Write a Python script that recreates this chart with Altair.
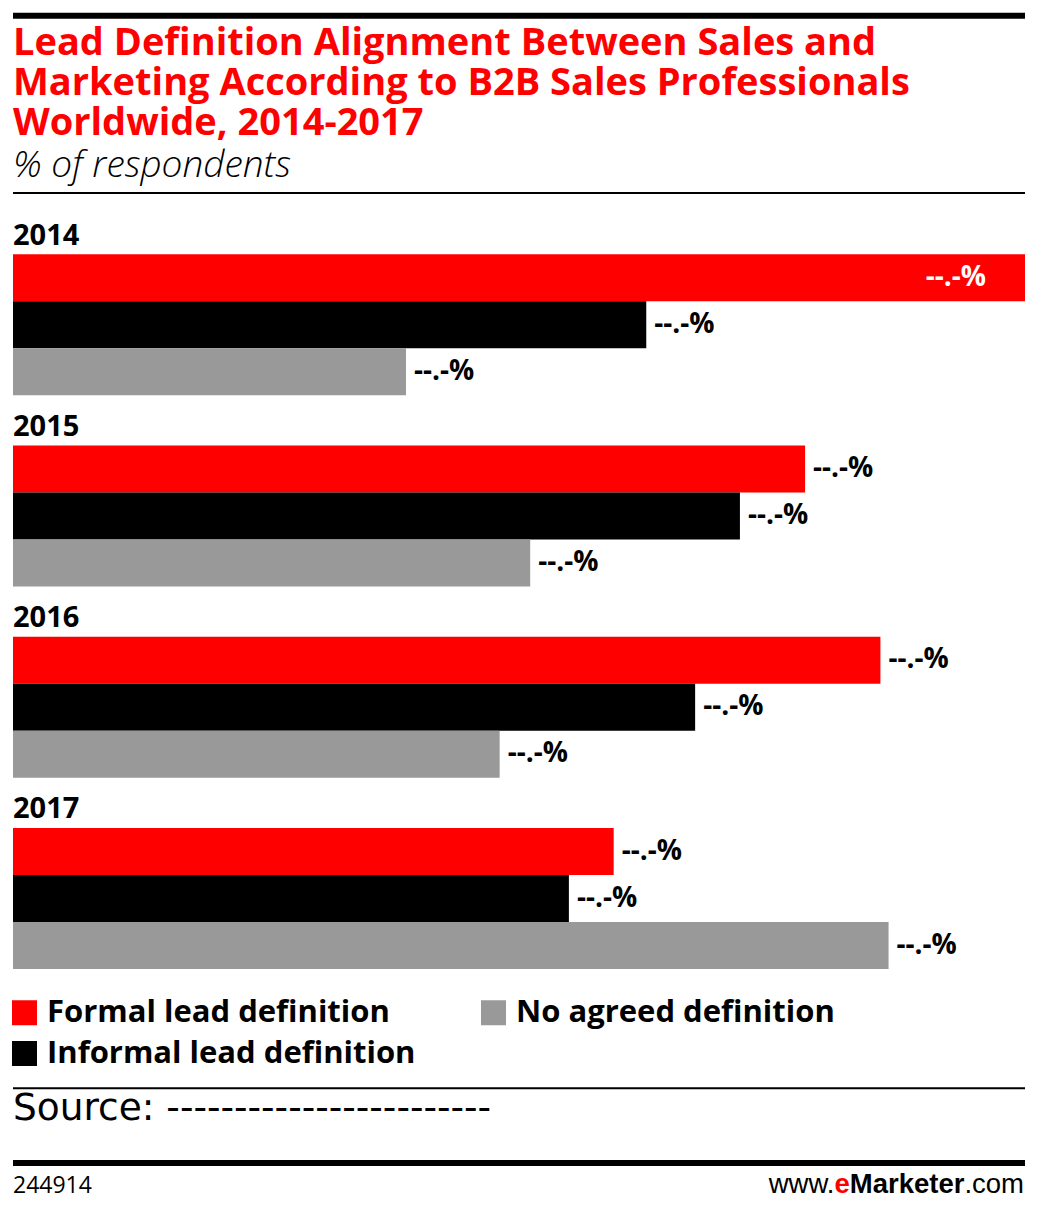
import altair as alt
import pandas as pd

# ---------------- data ----------------
years = ["2014", "2015", "2016", "2017"]
series = ["Formal lead definition", "Informal lead definition", "No agreed definition"]
formal = [49.7, 38.9, 42.6, 29.5]
informal = [31.1, 35.7, 33.5, 27.3]
no_agreed = [19.3, 25.4, 23.9, 43.0]
value_label = "--.-%"
series_colors = ["#ff0000", "#000000", "#999999"]

title_lines = ["Lead Definition Alignment Between Sales and",
               "Marketing According to B2B Sales Professionals",
               "Worldwide, 2014-2017"]
subtitle = "% of respondents"
source_text = "Source: ------------------------"
chart_id = "244914"

rows = []
for i, yr in enumerate(years):
    for s, vals in zip(series, [formal, informal, no_agreed]):
        rows.append({"year": yr, "series": s, "value": vals[i], "label": value_label})
df = pd.DataFrame(rows)

W, H = 1012, 765
FONT = "Open Sans"

xs = alt.Scale(domain=[0, float(df["value"].max())], nice=False, zero=True)
ys = alt.Scale(domain=years, paddingInner=0, paddingOuter=0)
yo = alt.Scale(domain=series, paddingInner=0, paddingOuter=0.535, align=1)
cs = alt.Scale(domain=series, range=series_colors)

X = alt.X("value:Q", scale=xs, axis=None)
Y = alt.Y("year:N", scale=ys, axis=None)
YO = alt.YOffset("series:N", scale=yo)

base = alt.Chart(df)

bars = base.mark_bar(stroke=None).encode(
    x=X, y=Y, yOffset=YO,
    color=alt.Color("series:N", scale=cs, legend=alt.Legend(
        title=None, orient="none", legendX=-4, legendY=793,
        columns=2, columnPadding=62, rowPadding=9,
        symbolType="square", symbolSize=625, symbolStrokeWidth=0, symbolOpacity=1,
        labelFont=FONT, labelFontSize=31, labelFontWeight="bold", labelColor="#000000",
        labelOffset=7, labelLimit=800)),
)

with_max = base.transform_joinaggregate(vmax="max(value)")
outside = with_max.transform_filter("datum.value < datum.vmax").mark_text(
    align="left", baseline="middle", dx=8, font=FONT, fontSize=28, fontWeight="bold",
    color="#000000").encode(x=X, y=Y, yOffset=YO, text="label:N")
inside = with_max.transform_filter("datum.value >= datum.vmax").mark_text(
    align="right", baseline="middle", dx=-39, font=FONT, fontSize=28, fontWeight="bold",
    color="#ffffff").encode(x=X, y=Y, yOffset=YO, text="label:N")

year_text = alt.Chart(pd.DataFrame({"year": years})).mark_text(
    align="left", baseline="alphabetic", dy=40.5, font=FONT, fontSize=29,
    fontWeight="bold", color="#000000").encode(
    x=alt.value(0), y=alt.Y("year:N", scale=ys, axis=None, bandPosition=0), text="year:N")

one = pd.DataFrame({"k": [0]})


def deco_text(text, x, y, **kw):
    return alt.Chart(one).mark_text(**kw).encode(
        x=alt.value(x), y=alt.value(y), text=alt.value(text))


def deco_rule(y, w):
    return alt.Chart(one).mark_rule(strokeWidth=w, color="#000000").encode(
        x=alt.value(0), x2=alt.value(W), y=alt.value(y))


title_layers = [
    deco_text(line, 0, -149 + 40 * k, align="left", baseline="alphabetic", font=FONT,
              fontSize=38, fontWeight="bold", color="#ff0000")
    for k, line in enumerate(title_lines)
]
sub = deco_text(subtitle, 0, -27, align="left", baseline="alphabetic", font=FONT,
                fontSize=37, fontStyle="italic", fontWeight=300, color="#000000")
src = deco_text(source_text, 0, 916, align="left", baseline="alphabetic",
                font="DejaVu Sans", fontSize=37.5, color="#000000")
cid = deco_text(chart_id, 0, 989, align="left", baseline="alphabetic", font=FONT,
                fontSize=23, color="#000000")
FS = 27.5
com = deco_text(".com", 1011, 989, align="right", baseline="alphabetic",
                font="Liberation Sans", fontSize=FS, color="#000000")
mkt = deco_text("Marketer", 1011 - 2.167 * FS, 989, align="right", baseline="alphabetic",
                font="Liberation Sans", fontSize=FS, fontWeight="bold", color="#000000")
e_red = deco_text("e", 1011 - (2.167 + 4.17) * FS, 989, align="right", baseline="alphabetic",
                  font="Liberation Sans", fontSize=FS, fontWeight="bold", color="#ff0000")
www = deco_text("www.", 1011 - (2.167 + 4.17 + 0.556) * FS, 989, align="right",
                baseline="alphabetic", font="Liberation Sans", fontSize=FS, color="#000000")

chart = alt.layer(
    deco_rule(-188.3, 6), *title_layers, sub, deco_rule(-11, 2),
    bars, outside, inside, year_text,
    deco_rule(884.3, 2), src, deco_rule(959, 6), cid, www, e_red, mkt, com,
).properties(
    width=W, height=H,
    autosize=alt.AutoSizeParams(type="none"),
    padding={"left": 5, "top": 196, "right": 5, "bottom": 235},
).configure_view(stroke=None)

chart.save("out.html", embed_options={"renderer": "svg", "actions": False})
